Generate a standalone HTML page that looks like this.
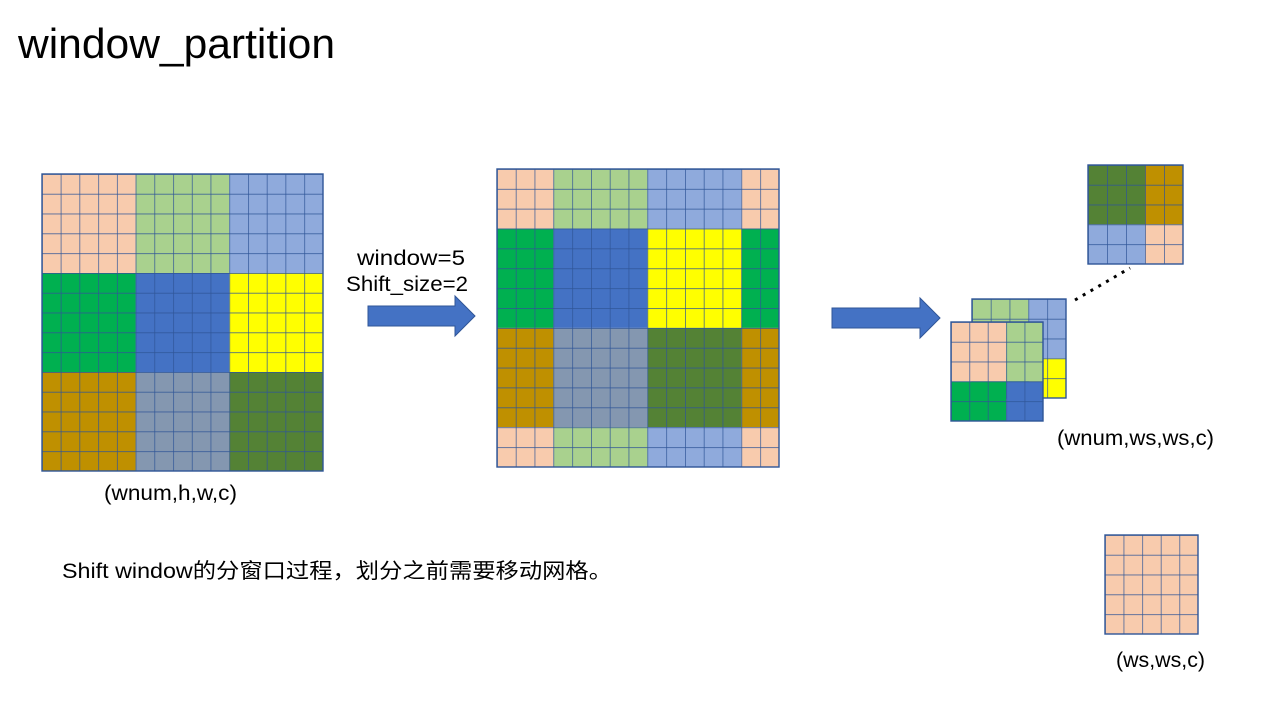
<!DOCTYPE html>
<html><head><meta charset="utf-8"><style>
html,body{margin:0;padding:0;background:#fff;}
svg{display:block;}
text{font-family:"Liberation Sans","Noto Sans CJK SC",sans-serif;fill:#000;}
</style></head><body>
<svg width="1280" height="720" viewBox="0 0 1280 720" xmlns="http://www.w3.org/2000/svg">
<defs>
<pattern id="gL" patternUnits="userSpaceOnUse" x="42" y="174" width="18.733" height="19.8"><path d="M0 0H18.733M0 0V19.8" stroke="#2F5597" stroke-width="1.4" fill="none"/></pattern>
<pattern id="gM" patternUnits="userSpaceOnUse" x="497" y="169" width="18.8" height="19.867"><path d="M0 0H18.8M0 0V19.867" stroke="#2F5597" stroke-width="1.4" fill="none"/></pattern>
<pattern id="gT" patternUnits="userSpaceOnUse" x="1088" y="165" width="19" height="19.8"><path d="M0 0H19M0 0V19.8" stroke="#2F5597" stroke-width="1.4" fill="none"/></pattern>
<pattern id="gB" patternUnits="userSpaceOnUse" x="972" y="299" width="18.8" height="19.8"><path d="M0 0H18.8M0 0V19.8" stroke="#2F5597" stroke-width="1.4" fill="none"/></pattern>
<pattern id="gF" patternUnits="userSpaceOnUse" x="951" y="322" width="18.4" height="19.8"><path d="M0 0H18.4M0 0V19.8" stroke="#2F5597" stroke-width="1.4" fill="none"/></pattern>
<pattern id="gS" patternUnits="userSpaceOnUse" x="1105" y="535" width="18.6" height="19.8"><path d="M0 0H18.6M0 0V19.8" stroke="#2F5597" stroke-width="1.4" fill="none"/></pattern>
</defs>

<text x="18" y="58" font-size="42" textLength="317" lengthAdjust="spacingAndGlyphs">window_partition</text>

<!-- Left grid -->
<g>
<rect x="42" y="174" width="93.67" height="99" fill="#F8CBAD"/>
<rect x="135.67" y="174" width="93.67" height="99" fill="#A9D18E"/>
<rect x="229.33" y="174" width="93.67" height="99" fill="#8FAADC"/>
<rect x="42" y="273" width="93.67" height="99" fill="#00B050"/>
<rect x="135.67" y="273" width="93.67" height="99" fill="#4472C4"/>
<rect x="229.33" y="273" width="93.67" height="99" fill="#FFFF00"/>
<rect x="42" y="372" width="93.67" height="99" fill="#BF9000"/>
<rect x="135.67" y="372" width="93.67" height="99" fill="#8497B0"/>
<rect x="229.33" y="372" width="93.67" height="99" fill="#548235"/>
<rect x="42" y="174" width="281" height="297" fill="url(#gL)"/>
<rect x="42" y="174" width="281" height="297" fill="none" stroke="#2F5597" stroke-width="1.4"/>
</g>
<text x="104" y="500" font-size="21" textLength="133" lengthAdjust="spacingAndGlyphs">(wnum,h,w,c)</text>

<!-- Arrow 1 -->
<text x="357" y="265" font-size="21" textLength="108" lengthAdjust="spacingAndGlyphs">window=5</text>
<text x="346" y="291" font-size="21" textLength="122" lengthAdjust="spacingAndGlyphs">Shift_size=2</text>
<polygon points="368,306 455,306 455,296 475,316 455,336 455,326 368,326" fill="#4472C4" stroke="#2F5597" stroke-width="1"/>

<!-- Middle grid -->
<g>
<rect x="497" y="169" width="56.4" height="59.6" fill="#F8CBAD"/>
<rect x="553.4" y="169" width="94" height="59.6" fill="#A9D18E"/>
<rect x="647.4" y="169" width="94" height="59.6" fill="#8FAADC"/>
<rect x="741.4" y="169" width="37.6" height="59.6" fill="#F8CBAD"/>
<rect x="497" y="228.6" width="56.4" height="99.3" fill="#00B050"/>
<rect x="553.4" y="228.6" width="94" height="99.3" fill="#4472C4"/>
<rect x="647.4" y="228.6" width="94" height="99.3" fill="#FFFF00"/>
<rect x="741.4" y="228.6" width="37.6" height="99.3" fill="#00B050"/>
<rect x="497" y="327.9" width="56.4" height="99.3" fill="#BF9000"/>
<rect x="553.4" y="327.9" width="94" height="99.3" fill="#8497B0"/>
<rect x="647.4" y="327.9" width="94" height="99.3" fill="#548235"/>
<rect x="741.4" y="327.9" width="37.6" height="99.3" fill="#BF9000"/>
<rect x="497" y="427.2" width="56.4" height="39.8" fill="#F8CBAD"/>
<rect x="553.4" y="427.2" width="94" height="39.8" fill="#A9D18E"/>
<rect x="647.4" y="427.2" width="94" height="39.8" fill="#8FAADC"/>
<rect x="741.4" y="427.2" width="37.6" height="39.8" fill="#F8CBAD"/>
<rect x="497" y="169" width="282" height="298" fill="url(#gM)"/>
<rect x="497" y="169" width="282" height="298" fill="none" stroke="#2F5597" stroke-width="1.4"/>
</g>

<!-- Arrow 2 -->
<polygon points="832,308 920,308 920,298 940,318 920,338 920,328 832,328" fill="#4472C4" stroke="#2F5597" stroke-width="1"/>

<!-- Top-right small -->
<g>
<rect x="1088" y="165" width="57" height="59.4" fill="#548235"/>
<rect x="1145" y="165" width="38" height="59.4" fill="#BF9000"/>
<rect x="1088" y="224.4" width="57" height="39.6" fill="#8FAADC"/>
<rect x="1145" y="224.4" width="38" height="39.6" fill="#F8CBAD"/>
<rect x="1088" y="165" width="95" height="99" fill="url(#gT)"/>
<rect x="1088" y="165" width="95" height="99" fill="none" stroke="#2F5597" stroke-width="1.4"/>
</g>
<line x1="1075" y1="300" x2="1130" y2="268" stroke="#000" stroke-width="3" stroke-dasharray="3,6"/>

<!-- Back small -->
<g>
<rect x="972" y="299" width="56.4" height="59.4" fill="#A9D18E"/>
<rect x="1028.4" y="299" width="37.6" height="59.4" fill="#8FAADC"/>
<rect x="972" y="358.4" width="56.4" height="39.6" fill="#00B050"/>
<rect x="1028.4" y="358.4" width="37.6" height="39.6" fill="#FFFF00"/>
<rect x="972" y="299" width="94" height="99" fill="url(#gB)"/>
<rect x="972" y="299" width="94" height="99" fill="none" stroke="#2F5597" stroke-width="1.4"/>
</g>
<!-- Front small -->
<g>
<rect x="951" y="322" width="55.2" height="59.4" fill="#F8CBAD"/>
<rect x="1006.2" y="322" width="36.8" height="59.4" fill="#A9D18E"/>
<rect x="951" y="381.4" width="55.2" height="39.6" fill="#00B050"/>
<rect x="1006.2" y="381.4" width="36.8" height="39.6" fill="#4472C4"/>
<rect x="951" y="322" width="92" height="99" fill="url(#gF)"/>
<rect x="951" y="322" width="92" height="99" fill="none" stroke="#2F5597" stroke-width="1.4"/>
</g>
<text x="1057" y="445" font-size="21" textLength="157" lengthAdjust="spacingAndGlyphs">(wnum,ws,ws,c)</text>

<!-- Bottom-right -->
<rect x="1105" y="535" width="93" height="99" fill="#F8CBAD"/>
<rect x="1105" y="535" width="93" height="99" fill="url(#gS)"/>
<rect x="1105" y="535" width="93" height="99" fill="none" stroke="#2F5597" stroke-width="1.4"/>
<text x="1116" y="667" font-size="21" textLength="89" lengthAdjust="spacingAndGlyphs">(ws,ws,c)</text>

<text x="62" y="578" font-size="21" textLength="550" lengthAdjust="spacingAndGlyphs">Shift window的分窗口过程，划分之前需要移动网格。</text>
</svg>
</body></html>
